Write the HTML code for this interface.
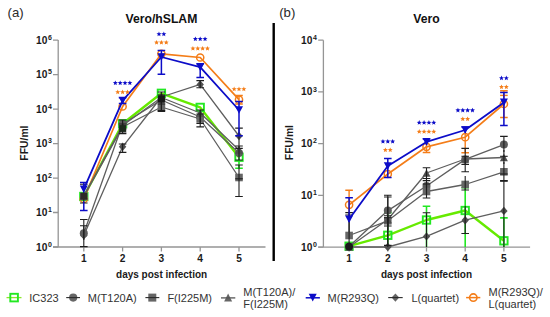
<!DOCTYPE html>
<html><head><meta charset="utf-8"><title>FFU chart</title>
<style>html,body{margin:0;padding:0;background:#fff;}svg{display:block;}</style>
</head><body>
<svg width="550" height="317" viewBox="0 0 550 317">
<style>
text{font-family:"Liberation Sans",sans-serif;}
.tl{font-weight:bold;font-size:10.2px;fill:#1a1a1a}
.sup{font-size:7px}
.ti{font-weight:bold;font-size:12.2px;fill:#111}
.pl{font-size:13.2px;fill:#2a2a2a}
.xl{font-weight:bold;font-size:10px;fill:#1a1a1a}
.yl{font-weight:bold;font-size:10.4px;fill:#1a1a1a}
.lg{font-size:11px;fill:#333}
</style>
<rect width="550" height="317" fill="#fff"/>
<text x="7.6" y="16.8" class="pl">(a)</text>
<text x="279.2" y="16.8" class="pl">(b)</text>
<text x="161.4" y="23.3" class="ti" text-anchor="middle">Vero/hSLAM</text>
<text x="426.4" y="23.3" class="ti" text-anchor="middle">Vero</text>
<rect x="272.5" y="23" width="2.4" height="238" fill="#000"/>
<path d="M58.2 40.1V247M53 247H265.5" stroke="#959595" stroke-width="1.3" fill="none"/><path d="M53 247H58.2M53 212.52H58.2M53 178.03H58.2M53 143.55H58.2M53 109.07H58.2M53 74.58H58.2M53 40.1H58.2M83.8 247V251.5M122.6 247V251.5M161.4 247V251.5M200.2 247V251.5M239 247V251.5" stroke="#959595" stroke-width="1.3" fill="none"/><text x="51.8" y="250.5" class="tl" text-anchor="end">10<tspan class="sup" dx="0.5" dy="-3.7">0</tspan></text><text x="51.8" y="216.02" class="tl" text-anchor="end">10<tspan class="sup" dx="0.5" dy="-3.7">1</tspan></text><text x="51.8" y="181.53" class="tl" text-anchor="end">10<tspan class="sup" dx="0.5" dy="-3.7">2</tspan></text><text x="51.8" y="147.05" class="tl" text-anchor="end">10<tspan class="sup" dx="0.5" dy="-3.7">3</tspan></text><text x="51.8" y="112.57" class="tl" text-anchor="end">10<tspan class="sup" dx="0.5" dy="-3.7">4</tspan></text><text x="51.8" y="78.08" class="tl" text-anchor="end">10<tspan class="sup" dx="0.5" dy="-3.7">5</tspan></text><text x="51.8" y="43.6" class="tl" text-anchor="end">10<tspan class="sup" dx="0.5" dy="-3.7">6</tspan></text><text x="83.8" y="262.3" class="tl" text-anchor="middle">1</text><text x="122.6" y="262.3" class="tl" text-anchor="middle">2</text><text x="161.4" y="262.3" class="tl" text-anchor="middle">3</text><text x="200.2" y="262.3" class="tl" text-anchor="middle">4</text><text x="239" y="262.3" class="tl" text-anchor="middle">5</text>
<path d="M323.4 40.2V247.1M318.2 247.1H530.1" stroke="#959595" stroke-width="1.3" fill="none"/><path d="M318.2 247.1H323.4M318.2 195.38H323.4M318.2 143.65H323.4M318.2 91.93H323.4M318.2 40.2H323.4M349.1 247.1V251.6M387.8 247.1V251.6M426.5 247.1V251.6M465.2 247.1V251.6M503.9 247.1V251.6" stroke="#959595" stroke-width="1.3" fill="none"/><text x="316.8" y="250.6" class="tl" text-anchor="end">10<tspan class="sup" dx="0.5" dy="-3.7">0</tspan></text><text x="316.8" y="198.88" class="tl" text-anchor="end">10<tspan class="sup" dx="0.5" dy="-3.7">1</tspan></text><text x="316.8" y="147.15" class="tl" text-anchor="end">10<tspan class="sup" dx="0.5" dy="-3.7">2</tspan></text><text x="316.8" y="95.43" class="tl" text-anchor="end">10<tspan class="sup" dx="0.5" dy="-3.7">3</tspan></text><text x="316.8" y="43.7" class="tl" text-anchor="end">10<tspan class="sup" dx="0.5" dy="-3.7">4</tspan></text><text x="349.1" y="262.3" class="tl" text-anchor="middle">1</text><text x="387.8" y="262.3" class="tl" text-anchor="middle">2</text><text x="426.5" y="262.3" class="tl" text-anchor="middle">3</text><text x="465.2" y="262.3" class="tl" text-anchor="middle">4</text><text x="503.9" y="262.3" class="tl" text-anchor="middle">5</text>
<text x="161.6" y="277.9" class="xl" text-anchor="middle">days post infection</text>
<text x="426.5" y="277.9" class="xl" text-anchor="middle">days post infection</text>
<text transform="translate(27.8 143.1) rotate(-90)" class="yl" text-anchor="middle">FFU/ml</text>
<text transform="translate(293.2 142.6) rotate(-90)" class="yl" text-anchor="middle">FFU/ml</text>
<polyline points="83.8,196.5 122.6,123.8 161.4,93.3 200.2,107.4 239,157.2" fill="none" stroke="#66ea00" stroke-width="2.4" stroke-linejoin="round"/><path d="M239 150V168.2M235.2 168.2H242.8" stroke="#22e822" stroke-width="1.6" fill="none"/><rect x="80.1" y="192.8" width="7.4" height="7.4" fill="none" stroke="#22e822" stroke-width="1.9"/><rect x="118.9" y="120.1" width="7.4" height="7.4" fill="none" stroke="#22e822" stroke-width="1.9"/><rect x="157.7" y="89.6" width="7.4" height="7.4" fill="none" stroke="#22e822" stroke-width="1.9"/><rect x="196.5" y="103.7" width="7.4" height="7.4" fill="none" stroke="#22e822" stroke-width="1.9"/><rect x="235.3" y="153.5" width="7.4" height="7.4" fill="none" stroke="#22e822" stroke-width="1.9"/><polyline points="83.8,199 122.6,106.5 161.4,53.8 200.2,57.5 239,99.7" fill="none" stroke="#f47d18" stroke-width="1.7" stroke-linejoin="round"/><path d="M239 95.5V104M235.2 95.5H242.8M235.2 104H242.8" stroke="#f47d18" stroke-width="1.4" fill="none"/><circle cx="83.8" cy="199" r="3.6" fill="none" stroke="#f47d18" stroke-width="1.5"/><circle cx="122.6" cy="106.5" r="3.6" fill="none" stroke="#f47d18" stroke-width="1.5"/><circle cx="161.4" cy="53.8" r="3.6" fill="none" stroke="#f47d18" stroke-width="1.5"/><circle cx="200.2" cy="57.5" r="3.6" fill="none" stroke="#f47d18" stroke-width="1.5"/><circle cx="239" cy="99.7" r="3.6" fill="none" stroke="#f47d18" stroke-width="1.5"/><polyline points="83.8,235.4 122.6,146.8 161.4,97 200.2,84.4 239,136" fill="none" stroke="#5e5e5e" stroke-width="1.3" stroke-linejoin="round"/><polyline points="83.8,233.2 122.6,124 161.4,100 200.2,117 239,153" fill="none" stroke="#5e5e5e" stroke-width="1.3" stroke-linejoin="round"/><polyline points="83.8,196.5 122.6,127 161.4,107 200.2,119 239,177.5" fill="none" stroke="#5e5e5e" stroke-width="1.3" stroke-linejoin="round"/><polyline points="83.8,195.5 122.6,125.5 161.4,97.5 200.2,113 239,150" fill="none" stroke="#5e5e5e" stroke-width="1.3" stroke-linejoin="round"/><path d="M83.8 231.2L87.5 235.4L83.8 239.6L80.1 235.4Z" fill="#505050"/><path d="M122.6 142.6L126.3 146.8L122.6 151L118.9 146.8Z" fill="#505050"/><path d="M161.4 92.8L165.1 97L161.4 101.2L157.7 97Z" fill="#505050"/><path d="M200.2 80.2L203.9 84.4L200.2 88.6L196.5 84.4Z" fill="#505050"/><path d="M239 131.8L242.7 136L239 140.2L235.3 136Z" fill="#505050"/><circle cx="83.8" cy="233.2" r="4" fill="#5c5c5c" stroke="none" stroke-width="0"/><circle cx="122.6" cy="124" r="4" fill="#5c5c5c" stroke="none" stroke-width="0"/><circle cx="161.4" cy="100" r="4" fill="#5c5c5c" stroke="none" stroke-width="0"/><circle cx="200.2" cy="117" r="4" fill="#5c5c5c" stroke="none" stroke-width="0"/><circle cx="239" cy="153" r="4" fill="#5c5c5c" stroke="none" stroke-width="0"/><rect x="80" y="192.7" width="7.6" height="7.6" fill="#666666" stroke="none" stroke-width="0"/><rect x="118.8" y="123.2" width="7.6" height="7.6" fill="#666666" stroke="none" stroke-width="0"/><rect x="157.6" y="103.2" width="7.6" height="7.6" fill="#666666" stroke="none" stroke-width="0"/><rect x="196.4" y="115.2" width="7.6" height="7.6" fill="#666666" stroke="none" stroke-width="0"/><rect x="235.2" y="173.7" width="7.6" height="7.6" fill="#666666" stroke="none" stroke-width="0"/><path d="M79.8 199.25H87.8L83.8 191.75Z" fill="#4e4e4e"/><path d="M118.6 129.25H126.6L122.6 121.75Z" fill="#4e4e4e"/><path d="M157.4 101.25H165.4L161.4 93.75Z" fill="#4e4e4e"/><path d="M196.2 116.75H204.2L200.2 109.25Z" fill="#4e4e4e"/><path d="M235 153.75H243L239 146.25Z" fill="#4e4e4e"/><path d="M83.8 219.5V246.6M80 219.5H87.6M80 246.6H87.6" stroke="#1e1e1e" stroke-width="1.1" fill="none"/><path d="M83.8 225.8V240M80 225.8H87.6" stroke="#1e1e1e" stroke-width="1.1" fill="none"/><path d="M83.8 184.3V203M80 184.3H87.6M80 203H87.6" stroke="#1e1e1e" stroke-width="1.1" fill="none"/><path d="M122.6 144V152.4M118.8 144H126.4M118.8 152.4H126.4" stroke="#1e1e1e" stroke-width="1.1" fill="none"/><path d="M122.6 120V133.6M118.8 120H126.4M118.8 133.6H126.4" stroke="#1e1e1e" stroke-width="1.1" fill="none"/><path d="M122.6 124V132M118.8 124H126.4M118.8 132H126.4" stroke="#1e1e1e" stroke-width="1.1" fill="none"/><path d="M161.4 92V111.5M157.6 92H165.2M157.6 111.5H165.2" stroke="#1e1e1e" stroke-width="1.1" fill="none"/><path d="M161.4 95V104M157.6 95H165.2M157.6 104H165.2" stroke="#1e1e1e" stroke-width="1.1" fill="none"/><path d="M161.4 102V110.5M157.6 110.5H165.2" stroke="#1e1e1e" stroke-width="1.1" fill="none"/><path d="M200.2 80.6V87.7M196.4 80.6H204M196.4 87.7H204" stroke="#1e1e1e" stroke-width="1.1" fill="none"/><path d="M200.2 110V126.9M196.4 110H204M196.4 126.9H204" stroke="#1e1e1e" stroke-width="1.1" fill="none"/><path d="M200.2 114V123.5M196.4 114H204M196.4 123.5H204" stroke="#1e1e1e" stroke-width="1.1" fill="none"/><path d="M239 128.1V148.4M235.2 128.1H242.8M235.2 148.4H242.8" stroke="#1e1e1e" stroke-width="1.1" fill="none"/><path d="M239 146V160M235.2 146H242.8M235.2 160H242.8" stroke="#1e1e1e" stroke-width="1.1" fill="none"/><path d="M239 165V196.5M235.2 165H242.8M235.2 196.5H242.8" stroke="#1e1e1e" stroke-width="1.1" fill="none"/><path d="M239 178.8V178.8M235.2 178.8H242.8" stroke="#1e1e1e" stroke-width="1.1" fill="none"/><rect x="80.4" y="192.8" width="6.8" height="6.8" fill="#2e2a26" stroke="none" stroke-width="0"/><rect x="119.2" y="125.1" width="6.8" height="6.8" fill="#1c2a1c" stroke="none" stroke-width="0"/><rect x="157.9" y="95.5" width="7" height="7" fill="#181818" stroke="none" stroke-width="0"/><polyline points="83.8,189.2 122.6,100.6 161.4,57 200.2,67.2 239,110" fill="none" stroke="#0c0cc8" stroke-width="1.8" stroke-linejoin="round"/><path d="M83.8 182.6V189M80 182.6H87.6" stroke="#0c0cc8" stroke-width="1.5" fill="none"/><path d="M83.8 201.5V210.4M80 210.4H87.6" stroke="#0c0cc8" stroke-width="1.5" fill="none"/><path d="M122.6 97.7V103.5M118.8 97.7H126.4M118.8 103.5H126.4" stroke="#0c0cc8" stroke-width="1.5" fill="none"/><path d="M161.4 50.6V74.2M157.6 50.6H165.2M157.6 74.2H165.2" stroke="#0c0cc8" stroke-width="1.5" fill="none"/><path d="M200.2 63.7V77.4M196.4 63.7H204M196.4 77.4H204" stroke="#0c0cc8" stroke-width="1.5" fill="none"/><path d="M239 101.5V135.8M235.2 101.5H242.8M235.2 135.8H242.8" stroke="#0c0cc8" stroke-width="1.5" fill="none"/><path d="M79.8 185.4H87.8L83.8 193Z" fill="#0c0cc8"/><path d="M118.6 96.8H126.6L122.6 104.4Z" fill="#0c0cc8"/><path d="M157.4 53.2H165.4L161.4 60.8Z" fill="#0c0cc8"/><path d="M196.2 63.4H204.2L200.2 71Z" fill="#0c0cc8"/><path d="M235 106.2H243L239 113.8Z" fill="#0c0cc8"/>
<polyline points="349.1,246.2 387.8,235.3 426.5,220 465.2,210.5 503.9,240.8" fill="none" stroke="#66ea00" stroke-width="2.4" stroke-linejoin="round"/><path d="M387.8 212.6V247M384 212.6H391.6" stroke="#22e822" stroke-width="1.6" fill="none"/><path d="M426.5 206.3V247M422.7 206.3H430.3" stroke="#22e822" stroke-width="1.6" fill="none"/><path d="M465.2 187.7V247M461.4 187.7H469" stroke="#22e822" stroke-width="1.6" fill="none"/><path d="M503.9 217.9V247M500.1 217.9H507.7" stroke="#22e822" stroke-width="1.6" fill="none"/><rect x="345.4" y="242.5" width="7.4" height="7.4" fill="none" stroke="#22e822" stroke-width="1.9"/><rect x="384.1" y="231.6" width="7.4" height="7.4" fill="none" stroke="#22e822" stroke-width="1.9"/><rect x="422.8" y="216.3" width="7.4" height="7.4" fill="none" stroke="#22e822" stroke-width="1.9"/><rect x="461.5" y="206.8" width="7.4" height="7.4" fill="none" stroke="#22e822" stroke-width="1.9"/><rect x="500.2" y="237.1" width="7.4" height="7.4" fill="none" stroke="#22e822" stroke-width="1.9"/><polyline points="349.1,204.8 387.8,174 426.5,146.8 465.2,137.2 503.9,104" fill="none" stroke="#f47d18" stroke-width="1.7" stroke-linejoin="round"/><path d="M349.1 190.3V216M345.3 190.3H352.9" stroke="#f47d18" stroke-width="1.4" fill="none"/><path d="M426.5 143V152.5M422.7 152.5H430.3" stroke="#f47d18" stroke-width="1.4" fill="none"/><path d="M465.2 133V152.8M461.4 152.8H469" stroke="#f47d18" stroke-width="1.4" fill="none"/><path d="M503.9 90.8V117.5M500.1 90.8H507.7M500.1 117.5H507.7" stroke="#f47d18" stroke-width="1.4" fill="none"/><path d="M503.9 95.4V95.4M500.1 95.4H507.7" stroke="#f47d18" stroke-width="1.4" fill="none"/><circle cx="349.1" cy="204.8" r="3.6" fill="none" stroke="#f47d18" stroke-width="1.5"/><circle cx="387.8" cy="174" r="3.6" fill="none" stroke="#f47d18" stroke-width="1.5"/><circle cx="426.5" cy="146.8" r="3.6" fill="none" stroke="#f47d18" stroke-width="1.5"/><circle cx="465.2" cy="137.2" r="3.6" fill="none" stroke="#f47d18" stroke-width="1.5"/><circle cx="503.9" cy="104" r="3.6" fill="none" stroke="#f47d18" stroke-width="1.5"/><polyline points="349.1,247 387.8,247 426.5,236.4 465.2,220.2 503.9,210.9" fill="none" stroke="#5e5e5e" stroke-width="1.3" stroke-linejoin="round"/><polyline points="349.1,246.5 387.8,210.6 426.5,186 465.2,159.4 503.9,144.6" fill="none" stroke="#5e5e5e" stroke-width="1.3" stroke-linejoin="round"/><polyline points="349.1,235.5 387.8,220.8 426.5,191.5 465.2,184.5 503.9,171.8" fill="none" stroke="#5e5e5e" stroke-width="1.3" stroke-linejoin="round"/><polyline points="349.1,247 387.8,219.5 426.5,173 465.2,159 503.9,157.5" fill="none" stroke="#5e5e5e" stroke-width="1.3" stroke-linejoin="round"/><path d="M349.1 242.8L352.8 247L349.1 251.2L345.4 247Z" fill="#505050"/><path d="M387.8 242.8L391.5 247L387.8 251.2L384.1 247Z" fill="#505050"/><path d="M426.5 232.2L430.2 236.4L426.5 240.6L422.8 236.4Z" fill="#505050"/><path d="M465.2 216L468.9 220.2L465.2 224.4L461.5 220.2Z" fill="#505050"/><path d="M503.9 206.7L507.6 210.9L503.9 215.1L500.2 210.9Z" fill="#505050"/><circle cx="349.1" cy="246.5" r="4" fill="#5c5c5c" stroke="none" stroke-width="0"/><circle cx="387.8" cy="210.6" r="4" fill="#5c5c5c" stroke="none" stroke-width="0"/><circle cx="426.5" cy="186" r="4" fill="#5c5c5c" stroke="none" stroke-width="0"/><circle cx="465.2" cy="159.4" r="4" fill="#5c5c5c" stroke="none" stroke-width="0"/><circle cx="503.9" cy="144.6" r="4" fill="#5c5c5c" stroke="none" stroke-width="0"/><rect x="345.3" y="231.7" width="7.6" height="7.6" fill="#666666" stroke="none" stroke-width="0"/><rect x="384" y="217" width="7.6" height="7.6" fill="#666666" stroke="none" stroke-width="0"/><rect x="422.7" y="187.7" width="7.6" height="7.6" fill="#666666" stroke="none" stroke-width="0"/><rect x="461.4" y="180.7" width="7.6" height="7.6" fill="#666666" stroke="none" stroke-width="0"/><rect x="500.1" y="168" width="7.6" height="7.6" fill="#666666" stroke="none" stroke-width="0"/><path d="M345.1 250.75H353.1L349.1 243.25Z" fill="#4e4e4e"/><path d="M383.8 223.25H391.8L387.8 215.75Z" fill="#4e4e4e"/><path d="M422.5 176.75H430.5L426.5 169.25Z" fill="#4e4e4e"/><path d="M461.2 162.75H469.2L465.2 155.25Z" fill="#4e4e4e"/><path d="M499.9 161.25H507.9L503.9 153.75Z" fill="#4e4e4e"/><path d="M349.1 212.6V247M345.3 212.6H352.9" stroke="#1e1e1e" stroke-width="1.1" fill="none"/><path d="M349.1 215V232M345.3 215H352.9" stroke="#1e1e1e" stroke-width="1.1" fill="none"/><path d="M387.8 195.2V247M384 195.2H391.6" stroke="#1e1e1e" stroke-width="1.1" fill="none"/><path d="M387.8 197V226M384 197H391.6M384 226H391.6" stroke="#1e1e1e" stroke-width="1.1" fill="none"/><path d="M387.8 215.7V230M384 215.7H391.6" stroke="#1e1e1e" stroke-width="1.1" fill="none"/><path d="M387.8 217.8V245.4M384 217.8H391.6M384 245.4H391.6" stroke="#1e1e1e" stroke-width="1.1" fill="none"/><path d="M426.5 167.8V198M422.7 167.8H430.3M422.7 198H430.3" stroke="#1e1e1e" stroke-width="1.1" fill="none"/><path d="M426.5 178.5V180.6M422.7 178.5H430.3M422.7 180.6H430.3" stroke="#1e1e1e" stroke-width="1.1" fill="none"/><path d="M426.5 184V194.5M422.7 184H430.3" stroke="#1e1e1e" stroke-width="1.1" fill="none"/><path d="M426.5 212.7V247M422.7 212.7H430.3" stroke="#1e1e1e" stroke-width="1.1" fill="none"/><path d="M465.2 148.4V171.7M461.4 148.4H469M461.4 171.7H469" stroke="#1e1e1e" stroke-width="1.1" fill="none"/><path d="M465.2 156.3V164.4M461.4 156.3H469M461.4 164.4H469" stroke="#1e1e1e" stroke-width="1.1" fill="none"/><path d="M465.2 176V190M461.4 190H469" stroke="#1e1e1e" stroke-width="1.1" fill="none"/><path d="M465.2 206V233.5M461.4 233.5H469" stroke="#1e1e1e" stroke-width="1.1" fill="none"/><path d="M503.9 136.4V152M500.1 136.4H507.7" stroke="#1e1e1e" stroke-width="1.1" fill="none"/><path d="M503.9 150V164" stroke="#1e1e1e" stroke-width="1.1" fill="none"/><path d="M503.9 156.3V156.3M500.1 156.3H507.7" stroke="#1e1e1e" stroke-width="1.1" fill="none"/><path d="M503.9 162V180.6M500.1 180.6H507.7" stroke="#1e1e1e" stroke-width="1.1" fill="none"/><path d="M503.9 174V174M500.1 174H507.7" stroke="#1e1e1e" stroke-width="1.1" fill="none"/><path d="M503.9 181.1V247M500.1 181.1H507.7" stroke="#1e1e1e" stroke-width="1.1" fill="none"/><circle cx="349.1" cy="246.6" r="3.9" fill="#1a1a1a" stroke="none" stroke-width="0"/><polyline points="349.1,219.2 387.8,166 426.5,141.9 465.2,130 503.9,102.4" fill="none" stroke="#0c0cc8" stroke-width="1.8" stroke-linejoin="round"/><path d="M349.1 197.7V222M345.3 197.7H352.9" stroke="#0c0cc8" stroke-width="1.5" fill="none"/><path d="M387.8 158.6V177.6M384 158.6H391.6M384 177.6H391.6" stroke="#0c0cc8" stroke-width="1.5" fill="none"/><path d="M426.5 139V145M422.7 139H430.3" stroke="#0c0cc8" stroke-width="1.5" fill="none"/><path d="M465.2 127V133M461.4 127H469" stroke="#0c0cc8" stroke-width="1.5" fill="none"/><path d="M503.9 92.4V125.4M500.1 92.4H507.7M500.1 125.4H507.7" stroke="#0c0cc8" stroke-width="1.5" fill="none"/><path d="M345.1 215.4H353.1L349.1 223Z" fill="#0c0cc8"/><path d="M383.8 162.2H391.8L387.8 169.8Z" fill="#0c0cc8"/><path d="M422.5 138.1H430.5L426.5 145.7Z" fill="#0c0cc8"/><path d="M461.2 126.2H469.2L465.2 133.8Z" fill="#0c0cc8"/><path d="M499.9 98.6H507.9L503.9 106.2Z" fill="#0c0cc8"/>
<path d="M115.32 80.4L116 82.07L117.8 82.2L116.42 83.36L116.85 85.1L115.32 84.15L113.8 85.1L114.23 83.36L112.85 82.2L114.65 82.07ZM120.17 80.4L120.85 82.07L122.65 82.2L121.27 83.36L121.7 85.1L120.17 84.15L118.65 85.1L119.08 83.36L117.7 82.2L119.5 82.07ZM125.02 80.4L125.7 82.07L127.5 82.2L126.12 83.36L126.55 85.1L125.02 84.15L123.5 85.1L123.93 83.36L122.55 82.2L124.35 82.07ZM129.88 80.4L130.55 82.07L132.35 82.2L130.97 83.36L131.4 85.1L129.88 84.15L128.35 85.1L128.78 83.36L127.4 82.2L129.2 82.07Z" fill="#0c0cc8"/>
<path d="M117.75 89.5L118.43 91.17L120.22 91.3L118.84 92.46L119.28 94.2L117.75 93.25L116.22 94.2L116.66 92.46L115.28 91.3L117.07 91.17ZM122.6 89.5L123.28 91.17L125.07 91.3L123.69 92.46L124.13 94.2L122.6 93.25L121.07 94.2L121.51 92.46L120.13 91.3L121.92 91.17ZM127.45 89.5L128.13 91.17L129.92 91.3L128.54 92.46L128.98 94.2L127.45 93.25L125.92 94.2L126.36 92.46L124.98 91.3L126.77 91.17Z" fill="#f47d18"/>
<path d="M158.97 31.5L159.65 33.17L161.45 33.3L160.07 34.46L160.5 36.2L158.97 35.25L157.45 36.2L157.88 34.46L156.5 33.3L158.3 33.17ZM163.83 31.5L164.5 33.17L166.3 33.3L164.92 34.46L165.35 36.2L163.83 35.25L162.3 36.2L162.73 34.46L161.35 33.3L163.15 33.17Z" fill="#0c0cc8"/>
<path d="M156.55 39.9L157.23 41.57L159.02 41.7L157.64 42.86L158.08 44.6L156.55 43.65L155.02 44.6L155.46 42.86L154.08 41.7L155.87 41.57ZM161.4 39.9L162.08 41.57L163.87 41.7L162.49 42.86L162.93 44.6L161.4 43.65L159.87 44.6L160.31 42.86L158.93 41.7L160.72 41.57ZM166.25 39.9L166.93 41.57L168.72 41.7L167.34 42.86L167.78 44.6L166.25 43.65L164.72 44.6L165.16 42.86L163.78 41.7L165.57 41.57Z" fill="#f47d18"/>
<path d="M195.35 36.4L196.03 38.07L197.82 38.2L196.44 39.36L196.88 41.1L195.35 40.15L193.82 41.1L194.26 39.36L192.88 38.2L194.67 38.07ZM200.2 36.4L200.88 38.07L202.67 38.2L201.29 39.36L201.73 41.1L200.2 40.15L198.67 41.1L199.11 39.36L197.73 38.2L199.52 38.07ZM205.05 36.4L205.73 38.07L207.52 38.2L206.14 39.36L206.58 41.1L205.05 40.15L203.52 41.1L203.96 39.36L202.58 38.2L204.37 38.07Z" fill="#0c0cc8"/>
<path d="M192.92 45.9L193.6 47.57L195.4 47.7L194.02 48.86L194.45 50.6L192.92 49.65L191.4 50.6L191.83 48.86L190.45 47.7L192.25 47.57ZM197.77 45.9L198.45 47.57L200.25 47.7L198.87 48.86L199.3 50.6L197.77 49.65L196.25 50.6L196.68 48.86L195.3 47.7L197.1 47.57ZM202.62 45.9L203.3 47.57L205.1 47.7L203.72 48.86L204.15 50.6L202.62 49.65L201.1 50.6L201.53 48.86L200.15 47.7L201.95 47.57ZM207.47 45.9L208.15 47.57L209.95 47.7L208.57 48.86L209 50.6L207.47 49.65L205.95 50.6L206.38 48.86L205 47.7L206.8 47.57Z" fill="#f47d18"/>
<path d="M234.15 86.5L234.83 88.17L236.62 88.3L235.24 89.46L235.68 91.2L234.15 90.25L232.62 91.2L233.06 89.46L231.68 88.3L233.47 88.17ZM239 86.5L239.68 88.17L241.47 88.3L240.09 89.46L240.53 91.2L239 90.25L237.47 91.2L237.91 89.46L236.53 88.3L238.32 88.17ZM243.85 86.5L244.53 88.17L246.32 88.3L244.94 89.46L245.38 91.2L243.85 90.25L242.32 91.2L242.76 89.46L241.38 88.3L243.17 88.17Z" fill="#f47d18"/>
<path d="M382.95 138.9L383.63 140.57L385.42 140.7L384.04 141.86L384.48 143.6L382.95 142.65L381.42 143.6L381.86 141.86L380.48 140.7L382.27 140.57ZM387.8 138.9L388.48 140.57L390.27 140.7L388.89 141.86L389.33 143.6L387.8 142.65L386.27 143.6L386.71 141.86L385.33 140.7L387.12 140.57ZM392.65 138.9L393.33 140.57L395.12 140.7L393.74 141.86L394.18 143.6L392.65 142.65L391.12 143.6L391.56 141.86L390.18 140.7L391.97 140.57Z" fill="#0c0cc8"/>
<path d="M385.38 147.4L386.05 149.07L387.85 149.2L386.47 150.36L386.9 152.1L385.38 151.15L383.85 152.1L384.28 150.36L382.9 149.2L384.7 149.07ZM390.23 147.4L390.9 149.07L392.7 149.2L391.32 150.36L391.75 152.1L390.23 151.15L388.7 152.1L389.13 150.36L387.75 149.2L389.55 149.07Z" fill="#f47d18"/>
<path d="M419.23 120.1L419.9 121.77L421.7 121.9L420.32 123.06L420.75 124.8L419.23 123.85L417.7 124.8L418.13 123.06L416.75 121.9L418.55 121.77ZM424.07 120.1L424.75 121.77L426.55 121.9L425.17 123.06L425.6 124.8L424.07 123.85L422.55 124.8L422.98 123.06L421.6 121.9L423.4 121.77ZM428.93 120.1L429.6 121.77L431.4 121.9L430.02 123.06L430.45 124.8L428.93 123.85L427.4 124.8L427.83 123.06L426.45 121.9L428.25 121.77ZM433.77 120.1L434.45 121.77L436.25 121.9L434.87 123.06L435.3 124.8L433.77 123.85L432.25 124.8L432.68 123.06L431.3 121.9L433.1 121.77Z" fill="#0c0cc8"/>
<path d="M419.23 129.1L419.9 130.77L421.7 130.9L420.32 132.06L420.75 133.8L419.23 132.85L417.7 133.8L418.13 132.06L416.75 130.9L418.55 130.77ZM424.07 129.1L424.75 130.77L426.55 130.9L425.17 132.06L425.6 133.8L424.07 132.85L422.55 133.8L422.98 132.06L421.6 130.9L423.4 130.77ZM428.93 129.1L429.6 130.77L431.4 130.9L430.02 132.06L430.45 133.8L428.93 132.85L427.4 133.8L427.83 132.06L426.45 130.9L428.25 130.77ZM433.77 129.1L434.45 130.77L436.25 130.9L434.87 132.06L435.3 133.8L433.77 132.85L432.25 133.8L432.68 132.06L431.3 130.9L433.1 130.77Z" fill="#f47d18"/>
<path d="M457.93 107.7L458.6 109.37L460.4 109.5L459.02 110.66L459.45 112.4L457.93 111.45L456.4 112.4L456.83 110.66L455.45 109.5L457.25 109.37ZM462.77 107.7L463.45 109.37L465.25 109.5L463.87 110.66L464.3 112.4L462.77 111.45L461.25 112.4L461.68 110.66L460.3 109.5L462.1 109.37ZM467.62 107.7L468.3 109.37L470.1 109.5L468.72 110.66L469.15 112.4L467.62 111.45L466.1 112.4L466.53 110.66L465.15 109.5L466.95 109.37ZM472.47 107.7L473.15 109.37L474.95 109.5L473.57 110.66L474 112.4L472.47 111.45L470.95 112.4L471.38 110.66L470 109.5L471.8 109.37Z" fill="#0c0cc8"/>
<path d="M462.77 116.4L463.45 118.07L465.25 118.2L463.87 119.36L464.3 121.1L462.77 120.15L461.25 121.1L461.68 119.36L460.3 118.2L462.1 118.07ZM467.62 116.4L468.3 118.07L470.1 118.2L468.72 119.36L469.15 121.1L467.62 120.15L466.1 121.1L466.53 119.36L465.15 118.2L466.95 118.07Z" fill="#f47d18"/>
<path d="M501.47 75.6L502.15 77.27L503.95 77.4L502.57 78.56L503 80.3L501.47 79.35L499.95 80.3L500.38 78.56L499 77.4L500.8 77.27ZM506.32 75.6L507 77.27L508.8 77.4L507.42 78.56L507.85 80.3L506.32 79.35L504.8 80.3L505.23 78.56L503.85 77.4L505.65 77.27Z" fill="#0c0cc8"/>
<path d="M501.47 84.4L502.15 86.07L503.95 86.2L502.57 87.36L503 89.1L501.47 88.15L499.95 89.1L500.38 87.36L499 86.2L500.8 86.07ZM506.32 84.4L507 86.07L508.8 86.2L507.42 87.36L507.85 89.1L506.32 88.15L504.8 89.1L505.23 87.36L503.85 86.2L505.65 86.07Z" fill="#f47d18"/>
<path d="M6.5 297.6H21.5" stroke="#8ee62a" stroke-width="1.3"/><rect x="10.3" y="293.8" width="7.6" height="7.6" fill="none" stroke="#22e822" stroke-width="1.9"/><text x="29.3" y="301.6" class="lg">IC323</text><circle cx="73.2" cy="297.6" r="4.1" fill="#666" stroke="none" stroke-width="0"/><path d="M66.2 297.6H80" stroke="#2a2a2a" stroke-width="1.1"/><text x="87.8" y="301.6" class="lg">M(T120A)</text><rect x="148.3" y="293.6" width="8" height="8" fill="#666" stroke="none" stroke-width="0"/><path d="M145.4 297.6H159.3" stroke="#2a2a2a" stroke-width="1.1"/><text x="167.4" y="301.6" class="lg">F(I225M)</text><path d="M224.1 301.6H232.1L228.1 293.6Z" fill="#666"/><path d="M221 297.90000000000003H235.3" stroke="#555" stroke-width="1.3"/><text x="243.3" y="295.5" class="lg">M(T120A)/</text><text x="243.3" y="307.6" class="lg">F(I225M)</text><path d="M305.7 297.8H319.9" stroke="#0c0cc8" stroke-width="1.5"/><path d="M308.7 293.7H316.7L312.7 301.5Z" fill="#0c0cc8"/><text x="327.6" y="301.6" class="lg">M(R293Q)</text><path d="M395.4 293.5L399.2 297.6L395.4 301.7L391.6 297.6Z" fill="#666"/><path d="M388.2 297.6H402.7" stroke="#2a2a2a" stroke-width="1.1"/><text x="411.4" y="301.6" class="lg">L(quartet)</text><path d="M466.1 297.6H480.3" stroke="#f47d18" stroke-width="1.5"/><circle cx="473.3" cy="297.6" r="3.7" fill="none" stroke="#f47d18" stroke-width="1.6"/><text x="488.5" y="295.5" class="lg">M(R293Q)/</text><text x="488.5" y="307.6" class="lg">L(quartet)</text>
</svg>
</body></html>
